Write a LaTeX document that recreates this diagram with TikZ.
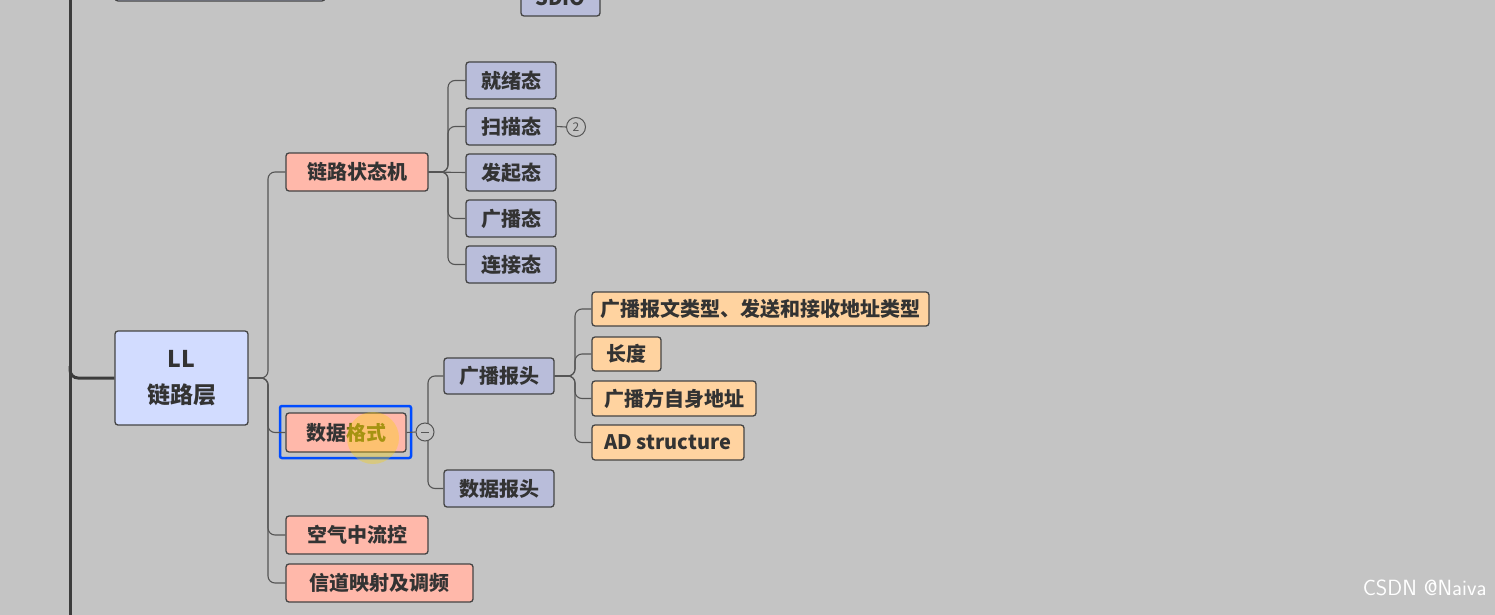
\documentclass[tikz,border=0pt]{standalone}
\usepackage{fontspec}
\setmainfont{Noto Sans CJK SC}
\usetikzlibrary{positioning}
\definecolor{bg}{HTML}{C4C4C4}
\definecolor{edge}{HTML}{555555}
\definecolor{llfill}{HTML}{D2DCFF}
\definecolor{pinkf}{HTML}{FFB8AA}
\definecolor{bluef}{HTML}{B9BDDA}
\definecolor{orangef}{HTML}{FFD3A0}
\tikzset{
 box/.style={draw=edge!80!black,line width=1.3pt,rounded corners=3pt,font=\bfseries\fontsize{20}{22}\selectfont,text=black!80,inner sep=0pt,anchor=center},
 pinkbox/.style={box,fill=pinkf},
 bluebox/.style={box,fill=bluef},
 orbox/.style={box,fill=orangef},
 conn/.style={draw=edge,line width=1.1pt,rounded corners=7pt},
}
\begin{document}
\begin{tikzpicture}[x=1pt,y=-1pt]
\fill[bg] (0,0) rectangle (1495,615);
\useasboundingbox (0,0) rectangle (1495,615);
% top partial boxes
\begin{scope}
\clip (0,0) rectangle (1495,615);
\node[bluebox,minimum width=210,minimum height=36] (topa) at (220,-17) {};
\node[bluebox,minimum width=79,minimum height=36] (sdio) at (560.5,-2) {SDIO};
\end{scope}
% main trunk
\draw[draw=edge!70!black,line width=3pt] (70,0) -- (70,615);
\node[box,fill=llfill,minimum width=133,minimum height=94,align=center,font=\bfseries\fontsize{23}{36}\selectfont] (ll) at (181.5,378) {LL\\链路层};
\draw[draw=edge!70!black,line width=3pt,rounded corners=8pt] (70,366) |- (ll.west);
% level 1
\node[pinkbox,minimum width=142,minimum height=38] (lsm) at (357,172) {链路状态机};
\draw[draw=blue!70!cyan,line width=2.5pt,rounded corners=2pt] (280,406) rectangle (411,458);
\node[pinkbox,minimum width=120,minimum height=39] (df) at (346,432.5) {数据\textcolor{olive!80!black}{格式}};
\fill[yellow!70!orange,opacity=0.35] (373,438) circle (26);
\node[pinkbox,minimum width=142,minimum height=38] (air) at (357,535) {空气中流控};
\node[pinkbox,minimum width=187,minimum height=38] (ch) at (379.5,583) {信道映射及调频};
\foreach \n in {lsm,df,air,ch}{\draw[conn] (ll.east) -- (268,378) |- (\n.west);}
% states
\node[bluebox,minimum width=90,minimum height=37] (s1) at (511,80.5) {就绪态};
\node[bluebox,minimum width=90,minimum height=37] (s2) at (511,126.5) {扫描态};
\node[bluebox,minimum width=90,minimum height=37] (s3) at (511,172.5) {发起态};
\node[bluebox,minimum width=90,minimum height=37] (s4) at (511,218.5) {广播态};
\node[bluebox,minimum width=90,minimum height=37] (s5) at (511,264.5) {连接态};
\foreach \n in {s1,s2,s4,s5}{\draw[conn] (lsm.east) -- (448,172) |- (\n.west);}
\draw[conn] (lsm.east) -- (s3.west);
\node[draw=edge,line width=1pt,circle,minimum size=19,inner sep=0pt,font=\fontsize{12}{12}\selectfont,text=edge] (c2) at (576,127) {2};
\draw[conn] (s2.east) -- (c2.west);
% data format
\node[bluebox,minimum width=110,minimum height=36] (gb) at (499,376) {广播报头};
\node[bluebox,minimum width=110,minimum height=37] (sb) at (499,488.5) {数据报头};
\coordinate (cj) at (428,432);
\draw[conn] (cj) |- (gb.west);
\draw[conn] (cj) |- (sb.west);
\node[draw=edge,fill=bg,line width=1pt,circle,minimum size=18,inner sep=0pt] (cm) at (425,432) {};
\draw[edge,line width=1pt] (421,432) -- (429,432);
\draw[conn] (df.east) -- (cm.west);
% broadcast header children
\node[orbox,minimum width=337,minimum height=34] (o1) at (760.5,309) {广播报文类型、发送和接收地址类型};
\node[orbox,minimum width=69,minimum height=34] (o2) at (626.5,354) {长度};
\node[orbox,minimum width=164,minimum height=35] (o3) at (674,398.5) {广播方自身地址};
\node[orbox,minimum width=152,minimum height=35] (o4) at (668,442.5) {AD structure};
\foreach \n in {o1,o2,o3,o4}{\draw[conn] (gb.east) -- (575,376) |- (\n.west);}
% watermark
\node[anchor=east,text=white,font=\fontsize{22}{22}\selectfont\sffamily] (wm) at (1490,588) {CSDN @Naiva};
\end{tikzpicture}
\end{document}
